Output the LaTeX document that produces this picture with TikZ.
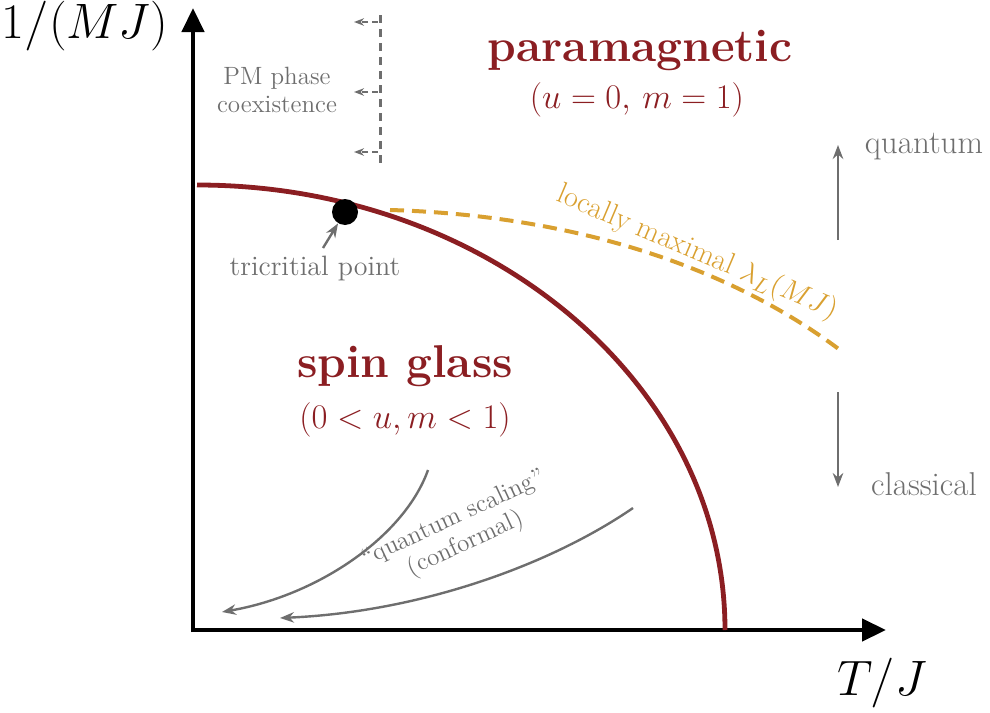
\documentclass[tikz,border=0pt]{standalone}
\usetikzlibrary{arrows.meta}
\definecolor{dred}{HTML}{8B1E22}
\definecolor{gold}{HTML}{D9A030}
\definecolor{gr}{HTML}{6E6E6E}
\begin{document}
\begin{tikzpicture}[x=0.5pt,y=-0.5pt,
  ga/.style={gr,line width=1.2pt,-{Stealth[length=7pt]}},
  gt/.style={gr,font=\fontsize{14}{16}\selectfont,align=center}]
\useasboundingbox (0,0) rectangle (990,712);
% axes
\coordinate (o) at (193,630);
\coordinate (yt) at (193,8);
\coordinate (xt) at (886,630);
\draw[line width=2.2pt,-{Triangle[length=12pt,width=11pt]}] (193,632) -- (yt);
\draw[line width=2.2pt,-{Triangle[length=12pt,width=11pt]}] (191,630) -- (xt);
\node (ylab) at (85,26) {\fontsize{25}{27}\selectfont $1/(MJ)$};
\node (xlab) at (882,683) {\fontsize{26}{28}\selectfont $T/J$};
% phase boundary
\draw[dred,line width=2.4pt] (197,185) arc[start angle=-90,end angle=0,x radius=528,y radius=445];
% dashed gold
\draw[gold,line width=2pt,dash pattern=on 7pt off 4pt] (390,210) .. controls (560,215) and (720,260) .. (840,350);
\node[gold,rotate=-23,font=\fontsize{15}{17}\selectfont] (ll) at (697,253) {locally maximal $\lambda_L(MJ)$};
% tricritical
\node[circle,fill=black,inner sep=0pt,minimum size=13pt] (tp) at (345,212) {};
\node[gt] (tpl) at (315,268) {tricritial point};
\draw[ga] (323,248) -- (tp);
% PM coexistence
\coordinate (d1) at (380,15); \coordinate (d2) at (380,165);
\draw[gr,line width=1.5pt,dash pattern=on 4pt off 3pt] (d1) -- (d2);
\foreach \y/\n in {22/a,92/b,152/c}{
  \coordinate (s\n) at (378,\y); \coordinate (e\n) at (354,\y);
  \draw[gr,line width=1.2pt,dash pattern=on 3pt off 2pt,-{Stealth[length=5pt]}] (s\n) -- (e\n);}
\node[gt,font=\fontsize{12.5}{14}\selectfont] (pm) at (277,90) {PM phase\\coexistence};
% labels
\node[dred,font=\fontsize{23}{26}\selectfont\bfseries] (para) at (640,50) {paramagnetic};
\node[dred,font=\fontsize{19}{21}\selectfont] (parau) at (637,100) {$(u=0,\,m=1)$};
\node[dred,font=\fontsize{23}{26}\selectfont\bfseries] (sg) at (405,366) {spin glass};
\node[dred,font=\fontsize{19}{21}\selectfont] (sgu) at (405,420) {$(0<u,m<1)$};
% quantum/classical
\node[gt,font=\fontsize{16.5}{18}\selectfont] (qu) at (924,147) {quantum};
\node[gt,font=\fontsize{16.5}{18}\selectfont] (cl) at (924,484) {classical};
\coordinate (q0) at (838,240); \coordinate (q1) at (838,145);
\coordinate (c0) at (838,392); \coordinate (c1) at (838,487);
\draw[ga] (q0) -- (q1);
\draw[ga] (c0) -- (c1);
% flow arrows
\coordinate (f1) at (428,470); \coordinate (f1e) at (222,612);
\coordinate (f2) at (633,508); \coordinate (f2e) at (280,618);
\draw[ga] (f1) .. controls (405,535) and (320,595) .. (f1e);
\draw[ga] (f2) .. controls (550,565) and (420,612) .. (f2e);
\node[gt,rotate=25,font=\fontsize{12.5}{14}\selectfont] (qs) at (460,532) {``quantum scaling''\\(conformal)};
\end{tikzpicture}
\end{document}
